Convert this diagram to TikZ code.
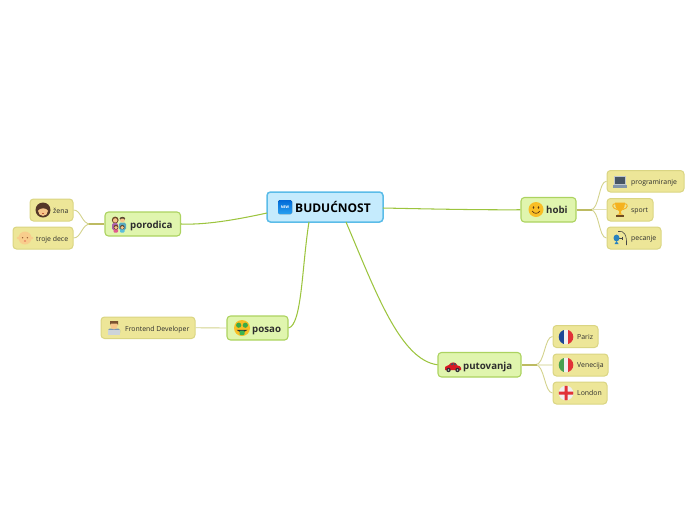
\documentclass[tikz,border=0pt]{standalone}
\usepackage{fontspec}
\setmainfont{Open Sans}
\usetikzlibrary{calc}
\definecolor{ink}{HTML}{2E2E2E}
\definecolor{mainline}{HTML}{9CC43E}
\definecolor{subline}{HTML}{D3D28C}
\definecolor{paleline}{HTML}{E2E2B8}
\definecolor{trunk}{HTML}{BDBB62}
\definecolor{skin}{HTML}{F6C58A}
\definecolor{gold}{HTML}{F5B21E}
\definecolor{emoji}{HTML}{F9BE25}
\definecolor{rootdraw}{HTML}{5BBCE8}
\definecolor{rootfill}{HTML}{C5EBFD}
\definecolor{topicdraw}{HTML}{ACD360}
\definecolor{topicfill}{HTML}{E0F5AE}
\definecolor{subdraw}{HTML}{DAD582}
\definecolor{subfill}{HTML}{EDE698}
\definecolor{newtop}{HTML}{28A0F0}
\definecolor{newbot}{HTML}{0069D7}
\definecolor{purple1}{HTML}{AA64AA}
\definecolor{hairb}{HTML}{6E4628}
\definecolor{teal1}{HTML}{5AAABE}
\definecolor{hairc}{HTML}{5A4632}
\definecolor{pink1}{HTML}{E15A8C}
\definecolor{cyan1}{HTML}{5ABEDC}
\definecolor{hairw}{HTML}{553728}
\definecolor{lip}{HTML}{BE5A3C}
\definecolor{babyskin}{HTML}{F8CD8C}
\definecolor{babyeye}{HTML}{965A32}
\definecolor{babymouth}{HTML}{E6785A}
\definecolor{money}{HTML}{3CAA46}
\definecolor{mouth}{HTML}{283232}
\definecolor{tongue}{HTML}{3CB450}
\definecolor{shirt}{HTML}{7896B4}
\definecolor{hairm}{HTML}{7A5230}
\definecolor{lapgrey}{HTML}{CDD4DA}
\definecolor{smilec}{HTML}{5A3714}
\definecolor{bezel}{HTML}{BEC6CD}
\definecolor{screen}{HTML}{465564}
\definecolor{lapbase}{HTML}{8296AA}
\definecolor{bronze}{HTML}{6E4B23}
\definecolor{rod}{HTML}{464646}
\definecolor{fish}{HTML}{2882BE}
\definecolor{hand}{HTML}{EBD7AA}
\definecolor{carred}{HTML}{D71923}
\definecolor{glass}{HTML}{46505F}
\definecolor{tyre}{HTML}{2D2D32}
\definecolor{hub}{HTML}{BEBEBE}
\definecolor{frblue}{HTML}{1E4696}
\definecolor{flagw}{HTML}{F0F0F0}
\definecolor{flagr}{HTML}{E13237}
\definecolor{itgreen}{HTML}{46A050}
\tikzset{
  x=1pt,y=-1pt,
  boxa/.style={draw=rootdraw,fill=rootfill,rounded corners=3.5,line width=1.5,inner sep=0},
  boxb/.style={draw=topicdraw,fill=topicfill,rounded corners=3.5,line width=1.1,inner sep=0},
  boxc/.style={draw=subdraw,fill=subfill,rounded corners=3.5,line width=1,inner sep=0},
  roottext/.style={font=\bfseries\fontsize{12}{13}\selectfont,text=black,inner sep=0,anchor=base west},
  topictext/.style={font=\bfseries\fontsize{9.7}{11}\selectfont,text=ink,inner sep=0,anchor=base west},
  subtext/.style={font=\fontsize{6.9}{8}\selectfont,text=ink,inner sep=0,anchor=base west},
  mainedge/.style={draw=mainline,line width=1.05},
  subedge/.style={draw=subline,line width=0.9},
  trunkedge/.style={draw=trunk,line width=1.6},
  straightedge/.style={draw=paleline,line width=1.2},
}
\newcommand{\boxat}[6]{\node[#1,minimum width=#4pt-#3pt,minimum height=#6pt-#5pt] (#2) at ({(#3+#4)/2},{(#5+#6)/2}) {};}
\begin{document}
\begin{tikzpicture}
\useasboundingbox (0,0) rectangle (696,520);
\coordinate (rootW) at (267,213);
\coordinate (rootS1) at (309,222);
\coordinate (rootS2) at (346,222);
\coordinate (rootE) at (383,208);
% boxes
\boxat{boxa}{root}{267}{383}{192}{222}
\boxat{boxb}{porodica}{105}{180.5}{212}{236}
\boxat{boxb}{posao}{227}{288}{316}{340}
\boxat{boxb}{hobi}{521}{576}{197.5}{222}
\boxat{boxb}{putovanja}{438}{521}{352.5}{377}
\boxat{boxc}{zena}{30}{73}{199}{221}
\boxat{boxc}{troje}{13}{73}{227}{249}
\boxat{boxc}{frontend}{101}{195}{317}{338.5}
\boxat{boxc}{prog}{607}{684}{170.5}{192}
\boxat{boxc}{sport}{607}{653}{198.5}{221}
\boxat{boxc}{pecanje}{607}{661}{227}{249}
\boxat{boxc}{pariz}{553}{598}{325.5}{347.5}
\boxat{boxc}{venecija}{553}{608}{354}{376}
\boxat{boxc}{london}{553}{607}{382}{404}
% main edges
\draw[mainedge] (rootW) .. controls (235,220) and (205,225) .. (porodica.east);
\draw[mainedge] (rootS1) .. controls (302,265) and (302,325) .. (posao.east);
\draw[mainedge] (rootS2) .. controls (375,290) and (400,360) .. (putovanja.west);
\draw[mainedge] (rootE) .. controls (430,209) and (480,210) .. (hobi.west);
% sub edges
\draw[subedge] (porodica.west) -- ++(-14,0) .. controls +(-9,0) and +(8,0) .. (zena.east);
\draw[subedge] (porodica.west) -- ++(-14,0) .. controls +(-9,0) and +(8,0) .. (troje.east);
\draw[trunkedge] (porodica.west) -- ++(-15,0);
\draw[subedge] (posao.west) -- (frontend.east);
\draw[subedge] (hobi.east) -- ++(14,0) .. controls +(9,0) and +(-8,0) .. (prog.west);
\draw[subedge] (hobi.east) -- ++(14,0) .. controls +(9,0) and +(-8,0) .. (pecanje.west);
\draw[straightedge] (hobi.east) -- (sport.west);
\draw[trunkedge] (hobi.east) -- ++(15,0);
\draw[subedge] (putovanja.east) -- ++(14,0) .. controls +(9,0) and +(-8,0) .. (pariz.west);
\draw[subedge] (putovanja.east) -- ++(14,0) .. controls +(9,0) and +(-8,0) .. (london.west);
\draw[straightedge] (putovanja.east) -- (venecija.west);
\draw[trunkedge] (putovanja.east) -- ++(15,0);
% labels
\node[roottext] (tRoot) at (295,212) {BUDUĆNOST};
\node[topictext] (tPorodica) at (130,228) {porodica};
\node[topictext] (tPosao) at (252,332) {posao};
\node[topictext] (tHobi) at (546,213.5) {hobi};
\node[topictext] (tPutovanja) at (463,369.5) {putovanja};
\node[subtext] (tZena) at (53,213) {žena};
\node[subtext] (tTroje) at (36,241.5) {troje dece};
\node[subtext] (tFrontend) at (125,331) {Frontend Developer};
\node[subtext] (tProg) at (631,184.5) {programiranje};
\node[subtext] (tSport) at (631,212.3) {sport};
\node[subtext] (tPecanje) at (631,240.5) {pecanje};
\node[subtext] (tPariz) at (577,339.5) {Pariz};
\node[subtext] (tVenecija) at (577,367.7) {Venecija};
\node[subtext] (tLondon) at (577,395.7) {London};
% NEW icon
\begin{scope}[shift={(285,207)}]
\fill[top color=newbot,bottom color=newtop,rounded corners=1.5] (-7,-7) rectangle (7,7);
\node[font=\bfseries\fontsize{3.6}{4}\selectfont,text=white,inner sep=0] (tNew) at (0,0) {NEW};
\end{scope}
% family
\begin{scope}[shift={(119,224)}]
\fill[hairb] (-3.8,-4) circle (3.4);
\fill[purple1,rounded corners=1.5] (-7,6) rectangle (-1,-1);
\fill[skin] (-3.8,-3.6) circle (2.2);
\fill[teal1,rounded corners=1.5] (0,6) rectangle (7,-1.5);
\fill[skin] (3.4,-4.2) circle (2.6);
\fill[hairc] (3.4,-5.4) ellipse (2.8 and 1.7);
\fill[skin] (3.4,-3.9) ellipse (2.3 and 1.6);
\fill[pink1,rounded corners=1] (-5.5,8.5) rectangle (-0.8,5);
\fill[hairb] (-3,3.2) circle (2.4);
\fill[skin] (-3,3.6) circle (1.8);
\fill[cyan1,rounded corners=1] (1,8.5) rectangle (5.6,5.2);
\fill[hairc] (3.3,3.2) circle (2.3);
\fill[skin] (3.3,3.6) circle (1.8);
\end{scope}
% woman
\begin{scope}[shift={(43,210)}]
\fill[hairw] (0,0) circle (7.5);
\fill[skin] (0,1) circle (4.9);
\fill[hairw] (-5,0) .. controls (-2,-2) and (2,-2.5) .. (5,0) -- (4,-6) -- (-4,-6) -- cycle;
\fill[lip] (-1.4,3.2) rectangle (1.4,3.8);
\end{scope}
% baby
\begin{scope}[shift={(25,238)}]
\fill[babyskin] (0,0) circle (6.5);
\fill[babyskin] (-6.8,0) circle (1.5) (6.8,0) circle (1.5);
\fill[babyeye] (-2.4,-0.3) circle (0.7) (2.4,-0.3) circle (0.7);
\fill[babymouth] (0,3) ellipse (1.2 and 0.8);
\end{scope}
% money face
\begin{scope}[shift={(242,328)}]
\fill[emoji] (0,0) circle (8);
\fill[money] (-3.3,-2.8) circle (2.6) (3.3,-2.8) circle (2.6);
\fill[mouth] (-5.5,1.8) .. controls (-2,5) and (2,5) .. (5.5,1.8) -- cycle;
\fill[tongue,rounded corners=1] (-2.5,2.5) rectangle (2.5,7);
\end{scope}
% developer
\begin{scope}[shift={(114,328)}]
\fill[shirt,rounded corners=1.5] (-6,6) rectangle (6,0.5);
\fill[skin] (0,-2.5) ellipse (3.6 and 3.9);
\fill[hairm] (-4,-3) -- (-4,-6.8) -- (4,-6.8) -- (4,-3) -- (3.2,-4.3) -- (-3.2,-4.3) -- cycle;
\fill[lapgrey] (-6,2) rectangle (6,6.5);
\end{scope}
% smile
\begin{scope}[shift={(536,209.5)}]
\fill[emoji] (0,0) circle (7.5);
\fill[smilec] (-2.5,-2) ellipse (0.9 and 1.3) (2.5,-2) ellipse (0.9 and 1.3);
\draw[smilec,line width=0.7] (-4,1.5) .. controls (-2,4.6) and (2,4.6) .. (4,1.5);
\end{scope}
% computer
\begin{scope}[shift={(620,182)}]
\fill[bezel] (-6,-6) rectangle (6,3);
\fill[screen] (-5,-5) rectangle (5,2);
\fill[lapbase] (-7,3) rectangle (7,6);
\end{scope}
% trophy
\begin{scope}[shift={(620,209.5)}]
\draw[gold,line width=0.9] (-4,-6) .. controls (-9,-6) and (-8,-1) .. (-3,0);
\draw[gold,line width=0.9] (4,-6) .. controls (9,-6) and (8,-1) .. (3,0);
\fill[gold] (-5,-7) -- (5,-7) .. controls (5,-1) and (2,1) .. (1,1.5) -- (1,4) -- (3,5) -- (-3,5) -- (-1,4) -- (-1,1.5) .. controls (-2,1) and (-5,-1) .. cycle;
\fill[bronze] (-4,5) rectangle (4,7);
\end{scope}
% fishing
\begin{scope}[shift={(620,238)}]
\draw[rod,line width=0.6] (-2,-6.5) .. controls (4,-8) and (7,-3) .. (6.5,7);
\draw[rod,line width=0.4] (2,0) -- (-1,0) (2,-1.5) -- (2,2);
\fill[fish] (-3.5,0) ellipse (3 and 3.4);
\fill[fish] (-3.5,3) -- (-5.5,6) -- (-1.5,6) -- cycle;
\fill[hand] (-1,-4.5) circle (1.2);
\end{scope}
% car
\begin{scope}[shift={(453,366)}]
\fill[carred] (-8,4) -- (-8,1) .. controls (-7,0) and (-5,-0.5) .. (-4,-1) .. controls (-2.5,-4.5) and (3,-4.5) .. (4.5,-0.5) .. controls (6,0) and (8,0) .. (8,2) -- (8,4) -- cycle;
\fill[glass] (-2.5,-1) .. controls (-1.5,-3.3) and (0,-3.3) .. (0.2,-3.3) -- (0.2,-1) -- cycle (1,-3.3) .. controls (2,-3.3) and (3,-2) .. (3.3,-1) -- (1,-1) -- cycle;
\fill[tyre] (-4.5,4) circle (2.2) (4.5,4) circle (2.2);
\fill[hub] (-4.5,4) circle (0.9) (4.5,4) circle (0.9);
\end{scope}
% France
\begin{scope}[shift={(566,337)}]
\clip (0,0) circle (7.3);
\fill[frblue] (-8,-8) rectangle (-2.4,8);
\fill[flagw] (-2.4,-8) rectangle (2.4,8);
\fill[flagr] (2.4,-8) rectangle (8,8);
\end{scope}
% Italy
\begin{scope}[shift={(566,365)}]
\clip (0,0) circle (7.3);
\fill[itgreen] (-8,-8) rectangle (-2.4,8);
\fill[flagw] (-2.4,-8) rectangle (2.4,8);
\fill[flagr] (2.4,-8) rectangle (8,8);
\end{scope}
% England
\begin{scope}[shift={(566,393)}]
\clip (0,0) circle (7.3);
\fill[flagw] (-8,-8) rectangle (8,8);
\fill[flagr] (-1.5,-8) rectangle (1.5,8) (-8,-1.5) rectangle (8,1.5);
\end{scope}
\end{tikzpicture}
\end{document}
